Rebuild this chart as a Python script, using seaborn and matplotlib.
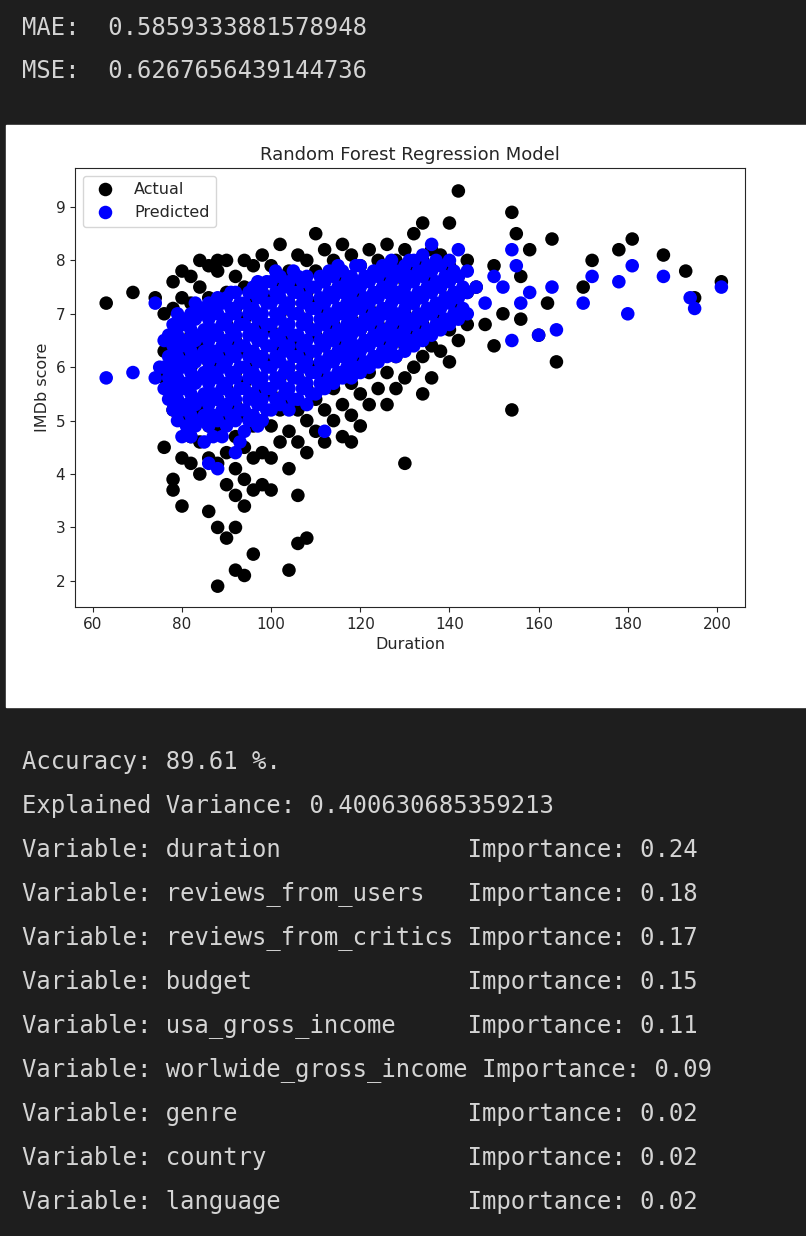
import pandas as pd
import matplotlib
matplotlib.use('Agg')
import matplotlib.pyplot as plt
import seaborn as sns
from matplotlib.patches import Rectangle

# ==============================
# 1. Data
# ==============================
mae = '0.5859333881578948'
mse = '0.6267656439144736'
accuracy = '89.61'
explained_variance = '0.400630685359213'
feature_names = ['duration', 'reviews_from_users', 'reviews_from_critics', 'budget',
                 'usa_gross_income', 'worlwide_gross_income', 'genre', 'country', 'language']
feature_importance = [0.24, 0.18, 0.17, 0.15, 0.11, 0.09, 0.02, 0.02, 0.02]

# actual scores, grouped by duration column
actual_cols = {
    76: [4.5, 5.8, 6.3, 7.0],
    78: [3.7, 3.9, 5.2, 5.9, 6.5, 7.1, 7.6],
    80: [3.4, 4.3, 5.0, 5.6, 6.2, 6.8, 7.3, 7.8],
    82: [4.2, 4.7, 5.3, 6.0, 6.6, 7.2, 7.7],
    84: [4.0, 4.6, 5.2, 5.8, 6.4, 7.0, 7.5, 8.0],
    86: [3.3, 4.3, 4.9, 5.5, 6.1, 6.7, 7.3, 7.9],
    88: [1.9, 3.0, 4.2, 4.8, 5.4, 6.0, 6.6, 7.2, 7.8, 8.0],
    90: [2.8, 3.8, 4.4, 5.0, 5.6, 6.2, 6.8, 7.4, 8.0],
    92: [2.2, 3.0, 3.6, 4.1, 4.7, 5.3, 5.9, 6.5, 7.1, 7.7],
    94: [2.1, 3.4, 3.9, 4.5, 5.1, 5.7, 6.3, 6.9, 7.5, 8.0],
    96: [2.5, 3.7, 4.3, 4.9, 5.5, 6.1, 6.7, 7.3, 7.9],
    98: [3.8, 4.4, 5.0, 5.6, 6.2, 6.8, 7.4, 8.1],
    100: [3.7, 4.3, 4.9, 5.5, 6.1, 6.7, 7.3, 7.9],
    102: [4.6, 5.2, 5.8, 6.4, 7.0, 7.6, 8.3],
    104: [2.2, 4.1, 4.8, 5.4, 6.0, 6.6, 7.2, 7.8],
    106: [2.7, 3.6, 4.6, 5.2, 5.8, 6.4, 7.0, 7.6, 8.1],
    108: [2.8, 4.4, 5.0, 5.6, 6.2, 6.8, 7.4, 8.0],
    110: [4.8, 5.4, 6.0, 6.6, 7.2, 7.8, 8.5],
    112: [4.6, 5.2, 5.8, 6.4, 7.0, 7.6, 8.2],
    114: [5.0, 5.6, 6.2, 6.8, 7.4, 8.0],
    116: [4.7, 5.3, 5.9, 6.5, 7.1, 7.7, 8.3],
    118: [4.6, 5.1, 5.7, 6.3, 6.9, 7.5, 8.1],
    120: [4.9, 5.5, 6.1, 6.7, 7.3, 7.9],
    122: [5.3, 5.9, 6.5, 7.1, 7.7, 8.2],
    124: [5.6, 6.2, 6.8, 7.4, 8.0],
    126: [5.3, 5.9, 6.5, 7.1, 7.7, 8.3],
    128: [5.6, 6.2, 6.8, 7.4, 8.0],
    130: [4.2, 5.8, 6.4, 7.0, 7.6, 8.2],
    132: [6.0, 6.6, 7.2, 7.8, 8.5],
    134: [5.5, 6.2, 6.8, 7.4, 8.0, 8.7],
    136: [5.8, 6.4, 7.0, 7.6, 8.2],
    138: [6.3, 6.9, 7.5, 8.1],
    140: [6.1, 6.7, 7.3, 7.9, 8.7],
    142: [6.5, 7.1, 7.7, 9.3],
    144: [6.8, 7.4, 8.0],
}
actual_extra_dur = [63, 69, 74, 146, 148, 150, 150, 152, 154, 154, 155, 156, 156, 158, 160,
                    162, 163, 164, 170, 172, 178, 181, 188, 193, 195, 201]
actual_extra_score = [7.2, 7.4, 7.3, 7.5, 6.8, 6.4, 7.9, 7.0, 8.9, 5.2, 8.5, 7.7, 6.9, 8.2, 6.6,
                      7.2, 8.4, 6.1, 7.5, 8.0, 8.2, 8.4, 8.1, 7.8, 7.3, 7.6]

# predicted scores, grouped by duration column
pred_cols = {
    76: [5.6, 6.0, 6.5],
    77: [5.4, 5.8, 6.2, 6.6],
    78: [5.2, 5.6, 6.0, 6.4, 6.8],
    79: [5.0, 5.4, 5.8, 6.2, 6.6, 7.0],
    80: [4.7, 5.2, 5.6, 6.0, 6.4, 6.8],
    81: [4.9, 5.3, 5.7, 6.1, 6.5, 6.9],
    82: [4.7, 5.1, 5.5, 5.9, 6.3, 6.7, 7.0],
    83: [4.9, 5.3, 5.7, 6.1, 6.5, 6.9, 7.2],
    84: [5.0, 5.4, 5.8, 6.2, 6.6, 7.0],
    85: [4.6, 5.1, 5.5, 5.9, 6.3, 6.7, 7.1],
    86: [4.2, 4.9, 5.3, 5.7, 6.1, 6.5, 6.9, 7.2],
    87: [4.7, 5.1, 5.5, 5.9, 6.3, 6.7, 7.1],
    88: [4.1, 5.0, 5.4, 5.8, 6.2, 6.6, 7.0, 7.3],
    89: [4.7, 5.2, 5.6, 6.0, 6.4, 6.8, 7.2],
    90: [4.9, 5.3, 5.7, 6.1, 6.5, 6.9, 7.3],
    91: [5.1, 5.5, 5.9, 6.3, 6.7, 7.1, 7.4],
    92: [4.4, 5.0, 5.4, 5.8, 6.2, 6.6, 7.0, 7.4],
    93: [4.6, 5.2, 5.6, 6.0, 6.4, 6.8, 7.2],
    94: [4.8, 5.2, 5.6, 6.0, 6.4, 6.8, 7.2],
    95: [5.0, 5.4, 5.8, 6.2, 6.6, 7.0, 7.4],
    96: [5.1, 5.5, 5.9, 6.3, 6.7, 7.1, 7.5],
    97: [4.9, 5.3, 5.7, 6.1, 6.5, 6.9, 7.3, 7.6],
    98: [5.0, 5.4, 5.8, 6.2, 6.6, 7.0, 7.4],
    99: [5.2, 5.6, 6.0, 6.4, 6.8, 7.2, 7.6],
    100: [5.2, 5.6, 6.0, 6.4, 6.8, 7.2, 7.6],
    101: [5.4, 5.8, 6.2, 6.6, 7.0, 7.4, 7.8],
    102: [5.3, 5.7, 6.1, 6.5, 6.9, 7.3, 7.7],
    103: [5.5, 5.9, 6.3, 6.7, 7.1, 7.5],
    104: [5.2, 5.6, 6.0, 6.4, 6.8, 7.2, 7.6],
    105: [5.4, 5.8, 6.2, 6.6, 7.0, 7.4, 7.8],
    106: [5.4, 5.8, 6.2, 6.6, 7.0, 7.4, 7.7],
    107: [5.6, 6.0, 6.4, 6.8, 7.2, 7.6],
    108: [5.3, 5.7, 6.1, 6.5, 6.9, 7.3, 7.7],
    109: [5.5, 5.9, 6.3, 6.7, 7.1, 7.5],
    110: [5.5, 5.9, 6.3, 6.7, 7.1, 7.5],
    111: [5.7, 6.1, 6.5, 6.9, 7.3, 7.7],
    112: [4.8, 5.6, 6.0, 6.4, 6.8, 7.2, 7.6],
    113: [5.8, 6.2, 6.6, 7.0, 7.4, 7.8],
    114: [5.7, 6.1, 6.5, 6.9, 7.3, 7.7],
    115: [5.9, 6.3, 6.7, 7.1, 7.5, 7.9],
    116: [5.8, 6.2, 6.6, 7.0, 7.4, 7.8],
    117: [6.0, 6.4, 6.8, 7.2, 7.6],
    118: [5.8, 6.2, 6.6, 7.0, 7.4, 7.7],
    119: [6.0, 6.4, 6.8, 7.2, 7.6, 7.9],
    120: [5.9, 6.3, 6.7, 7.1, 7.5, 7.9],
    121: [6.1, 6.5, 6.9, 7.3, 7.7],
    122: [6.0, 6.4, 6.8, 7.2, 7.6],
    123: [6.2, 6.6, 7.0, 7.4, 7.8],
    124: [6.1, 6.5, 6.9, 7.3, 7.7],
    125: [6.3, 6.7, 7.1, 7.5, 7.9],
    126: [6.2, 6.6, 7.0, 7.4, 7.8],
    127: [6.4, 6.8, 7.2, 7.6, 8.0],
    128: [6.2, 6.6, 7.0, 7.4, 7.8],
    129: [6.5, 6.9, 7.3, 7.7],
    130: [6.3, 6.7, 7.1, 7.5, 7.9],
    131: [6.5, 6.9, 7.3, 7.7, 8.0],
    132: [6.4, 6.8, 7.2, 7.6, 8.0],
    133: [6.6, 7.0, 7.4, 7.8],
    134: [6.5, 6.9, 7.3, 7.7, 8.1],
    135: [6.7, 7.1, 7.5, 7.9],
    136: [6.6, 7.0, 7.4, 7.8, 8.3],
    137: [6.8, 7.2, 7.6, 8.0],
    138: [6.7, 7.1, 7.5, 7.9],
    139: [6.9, 7.3, 7.7],
    140: [6.8, 7.2, 7.6, 8.0],
    141: [7.0, 7.4, 7.8],
    142: [6.9, 7.3, 7.7, 8.2],
    143: [7.1, 7.5],
    144: [7.0, 7.4, 7.8],
}
pred_extra_dur = [63, 69, 74, 74, 75, 146, 148, 150, 152, 154, 154, 155, 156, 158, 160,
                  163, 164, 170, 172, 178, 180, 181, 188, 194, 195, 201]
pred_extra_score = [5.8, 5.9, 5.8, 7.2, 6.0, 7.5, 7.2, 7.7, 7.5, 6.5, 8.2, 7.9, 7.2, 7.4, 6.6,
                    7.5, 6.7, 7.2, 7.7, 7.6, 7.0, 7.9, 7.7, 7.3, 7.1, 7.5]


def to_frame(cols, extra_x, extra_y, label):
    xs, ys = list(extra_x), list(extra_y)
    for d, scores in cols.items():
        xs += [d] * len(scores)
        ys += scores
    return pd.DataFrame({'Duration': xs, 'IMDb score': ys, 'kind': label})


df = pd.concat([to_frame(actual_cols, actual_extra_dur, actual_extra_score, 'Actual'),
                to_frame(pred_cols, pred_extra_dur, pred_extra_score, 'Predicted')],
               ignore_index=True)

# ==============================
# 2. Figure: dark notebook page with white plot panel
# ==============================
sns.set_style('ticks')
plt.rcParams['font.family'] = ['DejaVu Sans']
fig = plt.figure(figsize=(8.06, 12.36), dpi=100)
fig.patch.set_facecolor('#1e1e1e')
H = 1236.0
fig.patches.append(Rectangle((6 / 806, 1 - 707 / H), 800 / 806, 582 / H,
                             transform=fig.transFigure, facecolor='white', zorder=-5))

ax = fig.add_axes([75 / 806, 1 - 607 / H, 670 / 806, 439 / H])
ax.set_zorder(2)
sns.scatterplot(data=df, x='Duration', y='IMDb score', hue='kind',
                palette={'Actual': 'black', 'Predicted': 'blue'},
                s=95, linewidth=0, ax=ax)
ax.set_xlim(56, 206.3)
ax.set_ylim(1.51, 9.73)
ax.set_xticks([60, 80, 100, 120, 140, 160, 180, 200])
ax.set_yticks([2, 3, 4, 5, 6, 7, 8, 9])
ax.tick_params(labelsize=11)
ax.set_xlabel('Duration', fontsize=11.5)
ax.set_ylabel('IMDb score', fontsize=11.5)
ax.set_title('Random Forest Regression Model', fontsize=13)
leg = ax.legend(loc='upper left', fontsize=11.5, markerscale=1.0)
leg.set_title(None)

# ==============================
# 3. Console text
# ==============================
txt = dict(color='#d4d4d4', fontsize=17.2, family='DejaVu Sans Mono', va='center', ha='left')
fig.text(22 / 806, 1 - 28 / H, f'MAE:  {mae}', **txt)
fig.text(22 / 806, 1 - 71 / H, f'MSE:  {mse}', **txt)
lines = [f'Accuracy: {accuracy} %.', f'Explained Variance: {explained_variance}']
lines += [f'Variable: {n:20} Importance: {v}' for n, v in zip(feature_names, feature_importance)]
for i, line in enumerate(lines):
    fig.text(22 / 806, 1 - (762 + 44 * i) / H, line, **txt)

fig.savefig('out.png', dpi=100, facecolor=fig.get_facecolor())
